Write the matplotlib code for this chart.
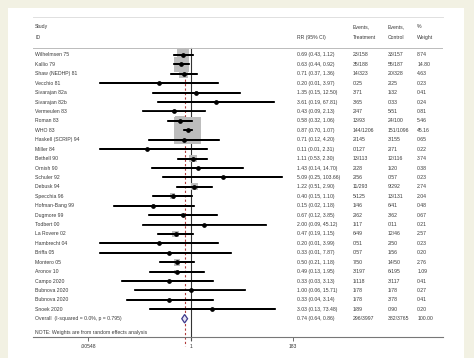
import numpy as np
import matplotlib.pyplot as plt
from matplotlib.patches import Rectangle

plt.rcParams['font.family'] = ['Liberation Sans', 'DejaVu Sans']

studies = ["Wilhelmsen 75", "Kallio 79", "Shaw (NEDHP) 81", "Vecchio 81", "Sivarajan 82a",
           "Sivarajan 82b", "Vermeulen 83", "Roman 83", "WHO 83", "Haskell (SCRIP) 94",
           "Miller 84", "Bethell 90", "Ornish 90", "Schuler 92", "Debusk 94", "Specchia 96",
           "Hofman-Bang 99", "Dugmore 99", "Todbert 00", "La Rovere 02", "Hambrecht 04",
           "Briffa 05", "Montero 05", "Aronov 10", "Campo 2020", "Bubnova 2020",
           "Bubnova 2020", "Snoek 2020"]
rr = [0.69, 0.63, 0.71, 0.20, 1.35, 3.61, 0.43, 0.58, 0.87, 0.71, 0.11, 1.11, 1.43, 5.09,
      1.22, 0.40, 0.15, 0.67, 2.00, 0.47, 0.20, 0.33, 0.50, 0.49, 0.33, 1.00, 0.33, 3.03]
lo = [0.43, 0.44, 0.37, 0.01, 0.15, 0.19, 0.09, 0.32, 0.70, 0.12, 0.01, 0.53, 0.14, 0.25,
      0.51, 0.15, 0.02, 0.12, 0.09, 0.19, 0.01, 0.01, 0.21, 0.13, 0.03, 0.06, 0.04, 0.13]
hi = [1.12, 0.92, 1.36, 3.97, 12.50, 67.81, 2.13, 1.06, 1.07, 4.20, 2.31, 2.30, 14.70,
      103.66, 2.90, 1.10, 1.18, 3.85, 45.12, 1.15, 3.99, 7.87, 1.18, 1.95, 3.13, 15.71,
      3.14, 73.48]
ev_treat = ["23/158", "35/188", "14/323", "0/25", "3/71", "3/65", "2/47", "13/93", "144/1206",
            "2/145", "0/127", "13/113", "2/28", "2/56", "11/293", "5/125", "1/46", "2/62",
            "1/17", "6/49", "0/51", "0/57", "7/50", "3/197", "1/118", "1/78", "1/78", "1/89"]
ev_ctrl = ["33/157", "55/187", "20/328", "2/25", "1/32", "0/33", "5/51", "24/100", "151/1096",
           "3/155", "2/71", "12/116", "1/20", "0/57", "9/292", "13/131", "6/41", "3/62",
           "0/11", "12/46", "2/50", "1/56", "14/50", "6/195", "3/117", "1/78", "3/78", "0/90"]
weight = [8.74, 14.80, 4.63, 0.23, 0.41, 0.24, 0.81, 5.46, 45.16, 0.65, 0.22, 3.74, 0.38,
          0.23, 2.74, 2.04, 0.48, 0.67, 0.21, 2.57, 0.23, 0.20, 2.76, 1.09, 0.41, 0.27,
          0.41, 0.20]
overall = (0.74, 0.64, 0.86)
overall_events = ("296/3997", "382/3765", "100.00")
xticks = [0.00548, 1, 183]
xtick_labels = [".00548", "1", "183"]

W, H = 474, 358
fig, ax = plt.subplots(figsize=(W / 100, H / 100), dpi=100)
fig.patch.set_facecolor('#f2f1e3')
fig.add_artist(Rectangle((8 / W, 0), (464 - 8) / W, (H - 8) / H,
                         transform=fig.transFigure, facecolor='white',
                         edgecolor='none', zorder=-10))
ax.set_position([33 / W, (H - 337) / H, 410 / W, 320 / H])
ax.set_xscale('log')
ax.set_xlim(3.35e-4, 3.7e5)
ax.set_ylim(30.94, -3.03)

n = len(studies)
rows = np.arange(1, n + 1, dtype=float)

# confidence intervals (thin bands plus lines so they render reliably)
half = 0.1
for i in range(n):
    ax.fill_between([lo[i], hi[i]], rows[i] - half, rows[i] + half, color='black',
                    lw=0, zorder=3)
    ax.plot([lo[i], hi[i]], [rows[i], rows[i]], color='black', lw=1.3, zorder=3,
            clip_on=False)

# reference lines
ax.plot([1, 1], [0.26, 31.3], color='#333333', lw=0.8, zorder=1, clip_on=False)
ax.plot([overall[0]] * 2, [0.26, 31.9], color='#b03a3a', lw=0.8, ls=(0, (2, 2)),
        zorder=1, clip_on=False)

# weight boxes and point estimates
ax.scatter(rr, rows, s=np.array(weight) * 8.5, marker='s', color='#bdbdbd',
           zorder=2, linewidths=0)
ax.plot(rr, rows, 'o', color='black', ms=2.4, zorder=4)

# overall diamond
oy = n + 1
ax.fill([overall[1], overall[0], overall[2], overall[0]],
        [oy, oy - 0.45, oy, oy + 0.45], facecolor='#e6e4f4', edgecolor='#3d3a8c',
        lw=0.9, zorder=5)

txt = dict(fontsize=3.7, color='#3a3a3a', va='center')
ty = ax.get_yaxis_transform()

# header
ax.text(0.005, -2, "Study", transform=ty, **txt)
ax.text(0.005, -0.9, "ID", transform=ty, **txt)
ax.text(0.644, -0.9, "RR (95% CI)", transform=ty, **txt)
ax.text(0.78, -2, "Events,", transform=ty, **txt)
ax.text(0.78, -0.9, "Treatment", transform=ty, **txt)
ax.text(0.866, -2, "Events,", transform=ty, **txt)
ax.text(0.866, -0.9, "Control", transform=ty, **txt)
ax.text(0.937, -2, "%", transform=ty, **txt)
ax.text(0.937, -0.9, "Weight", transform=ty, **txt)
ax.axhline(0.26, color='#bbbbbb', lw=0.7)

for i in range(n):
    y = rows[i]
    ax.text(0.005, y, studies[i], transform=ty, **txt)
    ax.text(0.644, y, f"{rr[i]:.2f} ({lo[i]:.2f}, {hi[i]:.2f})", transform=ty, **txt)
    ax.text(0.78, y, ev_treat[i], transform=ty, **txt)
    ax.text(0.866, y, ev_ctrl[i], transform=ty, **txt)
    ax.text(0.937, y, f"{weight[i]:.2f}", transform=ty, **txt)

ax.text(0.005, oy, "Overall  (I-squared = 0.0%, p = 0.795)", transform=ty, **txt)
ax.text(0.644, oy, f"{overall[0]:.2f} ({overall[1]:.2f}, {overall[2]:.2f})",
        transform=ty, **txt)
ax.text(0.78, oy, overall_events[0], transform=ty, **txt)
ax.text(0.866, oy, overall_events[1], transform=ty, **txt)
ax.text(0.937, oy, overall_events[2], transform=ty, **txt)
ax.text(0.005, oy + 1.5, "NOTE: Weights are from random effects analysis", transform=ty, **txt)

# axes styling
for s in ['left', 'right']:
    ax.spines[s].set_visible(False)
ax.spines['top'].set_color('#e0e0e0')
ax.spines['top'].set_linewidth(0.7)
ax.spines['bottom'].set_color('#777777')
ax.spines['bottom'].set_linewidth(0.8)
ax.set_yticks([])
ax.set_xticks(xticks)
ax.set_xticklabels(xtick_labels)
ax.minorticks_off()
ax.tick_params(axis='x', length=3, width=0.6, color='#555555', labelsize=3.6,
               labelcolor='#333333', pad=2)

fig.savefig('out.png', dpi=100, facecolor=fig.get_facecolor())
